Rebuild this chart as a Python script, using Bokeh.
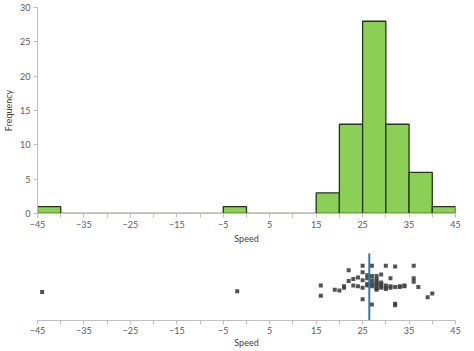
import numpy as np
from bokeh.plotting import figure
from bokeh.layouts import column
from bokeh.models import FixedTicker, ColumnDataSource
from bokeh.embed import file_html
from bokeh.resources import INLINE

# ---- data ----
bin_left = [-45, -40, -35, -30, -25, -20, -15, -10, -5, 0, 5, 10, 15, 20, 25, 30, 35, 40]
bin_right = [-40, -35, -30, -25, -20, -15, -10, -5, 0, 5, 10, 15, 20, 25, 30, 35, 40, 45]
bin_counts = [1, 0, 0, 0, 0, 0, 0, 0, 1, 0, 0, 0, 3, 13, 28, 13, 6, 1]

speeds = [-44, -2,
          16, 16, 19, 20, 21, 21, 22, 22, 23, 23, 24, 24, 25, 25, 25, 25, 25,
          26, 26, 26, 26, 27, 27, 27, 27, 27, 27,
          28, 28, 28, 28, 28, 28, 28, 28, 28,
          29, 29, 29, 29, 29, 30, 30, 30, 30,
          31, 31, 31, 32, 32, 32, 32, 33, 33, 34, 34,
          36, 36, 36, 37, 39, 40]
jitter = [0.39, 0.40,
          0.48, 0.34, 0.42, 0.41, 0.45, 0.47, 0.69, 0.54, 0.57, 0.48, 0.59, 0.47, 0.75, 0.66, 0.55, 0.45, 0.29,
          0.62, 0.48, 0.50, 0.58, 0.75, 0.61, 0.50, 0.22, 0.47, 0.55,
          0.61, 0.54, 0.51, 0.48, 0.45, 0.42, 0.57, 0.50, 0.44,
          0.63, 0.50, 0.47, 0.52, 0.45, 0.75, 0.45, 0.48, 0.43,
          0.58, 0.45, 0.47, 0.74, 0.46, 0.23, 0.21, 0.47, 0.46, 0.48, 0.47,
          0.75, 0.58, 0.53, 0.46, 0.32, 0.37]
x_major = [-45, -35, -25, -15, -5, 5, 15, 25, 35, 45]
x_minor = [-40, -30, -20, -10, 0, 10, 20, 30, 40]
y_ticks = [0, 5, 10, 15, 20, 25, 30]

FONT = "Lato"
TICK_COLOR = "#595959"
AXIS_COLOR = "#BFBFBF"


def style_axis(ax):
    ax.axis_line_color = AXIS_COLOR
    ax.major_tick_line_color = AXIS_COLOR
    ax.minor_tick_line_color = AXIS_COLOR
    ax.major_tick_in = 0
    ax.major_tick_out = 4
    ax.minor_tick_in = 0
    ax.minor_tick_out = 4
    ax.major_label_text_font = FONT
    ax.major_label_text_font_size = "9px"
    ax.major_label_text_color = TICK_COLOR
    ax.axis_label_text_font = FONT
    ax.axis_label_text_font_size = "9px"
    ax.axis_label_text_font_style = "normal"
    ax.axis_label_text_color = "#404040"
    ax.major_label_standoff = 3


# ---- top histogram ----
top = figure(frame_width=418, frame_height=206, width=474, height=244,
             x_range=(-45, 45), y_range=(0, 30),
             output_backend="svg", toolbar_location=None,
             min_border_left=37, min_border_right=19, min_border_top=7, min_border_bottom=31)
top.quad(left=bin_left, right=bin_right, top=bin_counts, bottom=0,
         fill_color="#8CCF56", line_color="#1E3A0C", line_width=1.3)
top.xaxis.ticker = FixedTicker(ticks=x_major, minor_ticks=x_minor)
top.yaxis.ticker = FixedTicker(ticks=y_ticks, minor_ticks=[])
top.xaxis.axis_label = "Speed"
top.yaxis.axis_label = "Frequency"
style_axis(top.xaxis[0])
style_axis(top.yaxis[0])
top.yaxis.axis_label_standoff = 3
top.xaxis.axis_label_standoff = 2
top.xgrid.visible = False
top.ygrid.visible = False
top.outline_line_color = None
top.background_fill_color = "white"
top.border_fill_color = "white"

# ---- bottom strip plot ----
mean_speed = float(np.mean(speeds))
bot = figure(frame_width=418, frame_height=73, width=474, height=107,
             x_range=(-45, 45), y_range=(0, 1),
             output_backend="svg", toolbar_location=None,
             min_border_left=37, min_border_right=19, min_border_top=1, min_border_bottom=33)
src = ColumnDataSource(dict(x=speeds, y=jitter))
bot.scatter("x", "y", source=src, marker="square", size=4,
            fill_color="#404040", line_color=None, fill_alpha=0.9)
bot.segment(x0=[mean_speed], y0=[0], x1=[mean_speed], y1=[0.92],
            line_color="#2E7DB5", line_width=2)
bot.xaxis.ticker = FixedTicker(ticks=x_major, minor_ticks=x_minor)
bot.xaxis.axis_label = "Speed"
style_axis(bot.xaxis[0])
bot.xaxis[0].major_label_standoff = 2
bot.xaxis.axis_label_standoff = 0
bot.yaxis.visible = False
bot.xgrid.visible = False
bot.ygrid.visible = False
bot.outline_line_color = None
bot.border_fill_color = "white"

layout = column(top, bot, spacing=0)
open("out.html", "w").write(file_html(layout, INLINE))
